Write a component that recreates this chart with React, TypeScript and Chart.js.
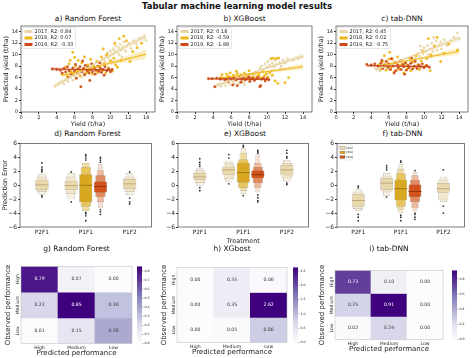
import React, { useEffect, useRef } from 'react';
import { Chart, registerables } from 'chart.js';

Chart.register(...registerables);
Chart.defaults.font.family = "'DejaVu Sans', sans-serif";
Chart.defaults.color = '#222';

type P = [number, number];

const YEARS = ['2017', '2018', '2019'];

// ---------- a) Random Forest: observed vs predicted yield ----------
const RF_2017: P[] = [[3.8,4.5],[4.2,4.8],[4.5,5.2],[4.8,4.9],[5.0,5.6],[5.3,5.3],[5.5,6.0],[5.8,5.5],[6.0,6.3],[6.2,5.8],[6.5,6.6],[6.8,6.1],[7.0,6.9],[7.2,6.4],[7.5,7.2],[7.8,6.8],[8.0,7.5],[8.3,7.1],[8.5,8.0],[8.8,7.6],[9.0,8.5],[9.2,9.2],[9.4,8.8],[9.5,9.8],[9.7,10.3],[9.8,9.4],[10.0,10.6],[10.1,9.9],[10.3,11.0],[10.4,10.2],[10.5,10.7],[10.6,11.5],[10.8,10.4],[10.9,11.2],[11.0,10.0],[11.1,11.8],[11.2,10.8],[11.4,11.4],[11.5,12.2],[11.7,10.6],[11.9,11.6],[12.1,12.0],[12.3,11.1],[12.6,12.4],[12.9,11.8],[13.3,12.8],[13.8,13.0],[14.0,12.5],[10.2,9.0],[11.3,9.6]];
const RF_2018: P[] = [[4.6,6.6],[5.0,7.8],[5.2,6.2],[5.4,8.4],[5.6,7.0],[5.8,10.4],[5.9,6.6],[6.1,8.0],[6.3,7.4],[6.4,9.0],[6.6,6.3],[6.8,8.6],[7.0,7.6],[7.1,9.6],[7.3,6.8],[7.5,8.2],[7.6,7.2],[7.8,9.2],[8.0,6.6],[8.1,8.0],[8.3,7.5],[8.5,8.8],[8.6,6.9],[8.8,7.9],[9.0,9.6],[9.1,7.2],[9.3,8.4],[9.5,6.8],[9.6,10.0],[9.8,7.7],[10.0,8.9],[10.2,7.1],[10.4,9.4],[10.6,8.2],[10.8,7.8],[11.0,12.8],[11.2,9.0],[11.5,13.2],[11.8,12.4],[12.2,8.8],[12.5,10.5],[13.0,11.2],[13.5,12.0],[10.5,12.0],[9.2,11.0],[6.0,9.5],[5.5,9.0]];
const RF_2019: P[] = [[3.5,7.5],[4.0,7.4],[4.4,7.3],[4.8,7.6],[5.0,7.0],[5.2,7.9],[5.4,7.2],[5.6,6.6],[5.8,7.7],[6.0,7.1],[6.1,8.3],[6.3,6.8],[6.4,7.5],[6.6,7.9],[6.7,4.4],[6.8,7.0],[7.0,7.6],[7.1,6.5],[7.2,8.1],[7.4,7.2],[7.5,7.8],[7.6,6.8],[7.8,7.4],[7.9,8.4],[8.0,7.0],[8.2,7.7],[8.3,6.6],[8.4,7.3],[8.6,8.0],[8.7,7.1],[8.9,7.6],[9.0,6.9],[9.2,7.4],[9.4,7.9],[9.6,7.2],[9.8,7.5],[10.0,7.0],[10.2,7.4],[6.2,5.9],[7.7,5.5],[5.3,6.0],[8.8,8.6],[6.9,8.9],[9.3,6.4],[4.6,6.8]];
const RF_R2 = ['0.84', '0.07', '-0.33'];
const RF_FIT: P[][] = [[[3.8,4.6],[14,13.3]], [[4.6,6.4],[14,10.1]], [[3.5,7.5],[10.3,7.3]]];
const RF_BAND: number[][][] = [[[3.8,4.2,5.0],[9.0,8.9,9.3],[14,12.8,13.8]], [[4.6,6.0,6.8],[8.5,7.8,8.1],[14,9.3,10.9]], [[3.5,7.2,7.8],[7.0,7.3,7.5],[10.3,7.1,7.5]]];

// ---------- b) XGBoost ----------
const XGB_2017: P[] = [[4.3,4.4],[4.6,4.8],[4.9,4.5],[5.2,5.0],[5.4,4.6],[5.7,5.2],[5.9,4.8],[6.2,5.3],[6.4,4.9],[6.7,5.5],[6.9,5.0],[7.2,5.6],[7.4,5.2],[7.7,5.8],[8.0,5.4],[8.3,6.0],[8.6,6.5],[8.9,7.0],[9.2,7.6],[9.4,8.0],[9.6,7.4],[9.8,8.4],[10.0,7.8],[10.1,8.8],[10.3,8.1],[10.4,9.3],[10.6,8.5],[10.8,7.9],[10.9,9.0],[11.0,8.3],[11.2,9.4],[11.4,8.6],[11.6,8.0],[11.8,9.1],[12.0,8.5],[12.3,9.3],[12.6,7.7],[12.9,9.0],[13.5,9.3],[13.9,9.6],[10.5,7.2],[11.5,7.5],[9.0,6.2],[7.5,4.7]];
const XGB_2018: P[] = [[4.8,6.0],[5.0,6.5],[5.3,5.9],[5.5,6.6],[5.7,6.2],[5.9,6.8],[6.1,6.0],[6.3,6.4],[6.5,5.9],[6.7,6.7],[6.9,6.1],[7.1,6.5],[7.3,6.0],[7.5,6.8],[7.7,6.2],[7.9,6.5],[8.1,5.9],[8.3,6.6],[8.5,6.1],[8.7,6.9],[8.9,6.2],[9.1,6.5],[9.3,6.0],[9.5,7.0],[9.7,6.3],[9.9,6.6],[10.1,6.1],[10.3,6.8],[10.5,9.3],[10.7,9.4],[11.0,9.3],[11.3,9.4],[10.6,6.4],[10.9,5.4],[11.2,5.0],[12.0,5.1],[12.4,6.0],[8.0,7.2],[6.6,7.1]];
const XGB_2019: P[] = [[3.5,5.8],[3.9,5.8],[4.2,4.4],[4.4,5.9],[4.8,5.7],[5.0,5.9],[5.3,5.6],[5.5,5.8],[5.8,6.0],[6.0,5.7],[6.2,4.7],[6.3,5.9],[6.5,5.6],[6.7,4.6],[6.8,5.8],[7.0,6.0],[7.2,5.7],[7.4,5.9],[7.6,5.6],[7.8,5.8],[8.0,6.1],[8.2,5.7],[8.4,5.9],[8.6,5.5],[8.8,5.8],[9.0,6.0],[9.2,4.4],[9.3,4.6],[9.4,5.7],[9.6,5.9],[9.8,5.4],[10.0,5.8],[10.2,5.6],[7.1,5.2],[8.1,5.3],[5.7,5.3]];
const XGB_R2 = ['0.18', '-0.59', '-1.88'];
const XGB_FIT: P[][] = [[[4.3,4.6],[14,9.8]], [[4.8,5.9],[14,7.9]], [[3.5,5.8],[10.3,5.7]]];
const XGB_BAND: number[][][] = [[[4.3,4.3,4.9],[9.0,7.0,7.3],[14,9.4,10.2]], [[4.8,5.7,6.1],[8.5,6.6,6.8],[14,7.4,8.4]], [[3.5,5.6,6.0],[7.0,5.7,5.9],[10.3,5.5,5.9]]];

// ---------- c) tab-DNN ----------
const DNN_2017: P[] = [[4.5,7.6],[5.0,7.2],[5.5,7.8],[6.0,7.5],[6.5,8.1],[7.0,7.7],[7.5,8.4],[8.0,8.3],[8.5,9.0],[9.0,9.4],[9.3,10.2],[9.5,9.7],[9.7,10.8],[9.9,10.1],[10.0,11.2],[10.2,10.5],[10.4,11.6],[10.5,10.0],[10.7,11.0],[10.9,12.0],[11.0,10.6],[11.2,11.4],[11.4,12.4],[11.5,10.8],[11.7,11.7],[11.9,12.2],[12.0,11.0],[12.3,12.6],[12.6,11.6],[13.0,12.3],[13.4,13.0],[13.8,13.8],[14.0,12.8],[10.8,9.6],[9.6,11.5],[12.2,10.2],[11.1,13.0],[8.8,8.6]];
const DNN_2018: P[] = [[4.8,8.2],[5.1,7.5],[5.3,8.8],[5.5,9.8],[5.7,7.3],[5.9,8.4],[6.1,10.4],[6.2,7.8],[6.4,9.2],[6.6,7.0],[6.8,8.6],[7.0,9.6],[7.1,7.4],[7.3,8.1],[7.5,9.0],[7.7,6.8],[7.9,8.4],[8.1,7.6],[8.3,9.4],[8.5,7.2],[8.7,8.8],[8.9,7.9],[9.1,9.8],[9.3,8.2],[9.5,7.4],[9.7,8.9],[9.9,10.6],[10.1,8.0],[10.3,9.3],[10.5,12.8],[10.8,10.0],[11.2,11.5],[11.5,13.0],[11.9,8.8],[12.3,10.2],[12.8,11.8],[13.8,10.8],[10.7,7.2],[6.0,9.2]];
const DNN_2019: P[] = [[3.5,8.3],[4.0,8.2],[4.4,8.4],[4.8,8.0],[5.1,8.5],[5.3,7.6],[5.5,8.2],[5.7,8.8],[5.9,7.8],[6.0,8.4],[6.2,7.4],[6.3,9.3],[6.5,8.0],[6.7,8.6],[6.8,7.2],[7.0,8.2],[7.1,7.7],[7.3,8.9],[7.4,7.4],[7.6,8.3],[7.7,7.9],[7.9,8.6],[8.0,7.3],[8.2,8.1],[8.3,7.7],[8.5,8.5],[8.7,7.5],[8.9,8.0],[9.0,8.8],[9.2,7.6],[9.4,8.2],[9.6,7.9],[9.8,8.4],[10.0,7.7],[10.3,8.1],[10.6,7.8],[6.6,6.8],[7.8,6.6],[5.2,9.0],[8.6,9.4]];
const DNN_R2 = ['0.45', '0.02', '-0.75'];
const DNN_FIT: P[][] = [[[4.5,7.3],[14,12.9]], [[4.8,8.0],[14,10.6]], [[3.5,8.1],[10.6,7.9]]];
const DNN_BAND: number[][][] = [[[4.5,6.9,7.7],[9.5,10.1,10.4],[14,12.4,13.4]], [[4.8,7.7,8.3],[9.0,9.1,9.3],[14,10.0,11.2]], [[3.5,7.9,8.3],[7.0,7.9,8.1],[10.6,7.7,8.1]]];

// ---------- d-f) prediction error per treatment (letter-value boxes) ----------
const TREAT_SLOTS = ['_0', 'P2F1', '_2', '_3', 'P1F1', '_5', '_6', 'P1F2', '_8'];
const BOX_SLOT = ['P2F1', '_3', 'P1F1', '_5', 'P1F2'];
const BOX_YEAR = [0, 0, 1, 2, 0];

const RF_LEVELS: P[][] = [
  [[-0.68,0.77],[-0.95,1.2],[-1.35,1.6]],
  [[-0.68,0.54],[-1.26,1.2],[-2.0,1.75]],
  [[-2.4,1.53],[-3.06,2.57],[-3.7,3.2]],
  [[-1.04,0.54],[-1.7,1.44],[-2.4,2.1],[-3.3,3.0]],
  [[-0.5,0.9],[-0.95,1.2],[-1.4,1.7]],
];
const RF_MEDIAN = [0.05, -0.05, 0.0, -0.2, 0.2];
const RF_OUT: number[][] = [[1.9,2.1,2.3,2.6,3.2,-1.5,-1.7],[1.9,-2.4],[3.6,3.9,4.2,4.4,-3.9,-4.1,-4.4,-5.1],[3.3,3.6,3.9,4.0,-3.5,-3.8,-4.2],[1.9,-1.85,-2.4,-2.7]];

const XGB_LEVELS: P[][] = [
  [[0.77,1.75],[0.3,2.1],[-0.05,2.4]],
  [[1.53,2.65],[0.9,3.1],[0.54,3.5]],
  [[0.4,3.24],[-0.36,3.7],[-0.8,4.6],[-1.26,5.3]],
  [[1.0,2.1],[0.3,2.6],[-0.36,3.2],[-1.0,4.4]],
  [[1.44,2.9],[1.0,3.2],[0.54,3.6]],
];
const XGB_MEDIAN = [1.2, 2.2, 1.8, 1.5, 2.2];
const XGB_OUT: number[][] = [[2.7,3.0,3.3,3.8,-0.35,-0.8],[3.9,4.4,0.2],[5.5,5.7,-1.5],[4.6,4.8,5.0,-1.4,-1.8,-2.2,-2.4],[3.9,4.1,4.6,5.0,0.3,0.1]];

const DNN_LEVELS: P[][] = [
  [[-3.06,-1.26],[-3.4,-0.95],[-3.7,-0.6]],
  [[-0.68,1.0],[-1.0,1.35],[-1.5,1.75]],
  [[-2.16,0.77],[-3.06,1.67],[-3.5,2.3],[-4.0,3.0]],
  [[-1.7,0.1],[-2.4,0.77],[-3.3,1.44],[-3.7,1.9]],
  [[-1.04,0.3],[-2.16,0.77],[-2.4,1.2]],
];
const DNN_MEDIAN = [-2.2, 0.3, -0.5, -0.9, -0.5];
const DNN_OUT: number[][] = [[-0.36,-0.1,-4.2,-4.6,-5.1],[2.2,2.5,2.8,-1.7],[3.3,3.5,-4.3,-4.6,-5.1],[2.1,-4.0,-4.2,-4.6,-4.9],[2.2,-3.0,-4.0]];

// ---------- g-i) confusion of performance classes ----------
const PERF = ['High', 'Medium', 'Low'];
const HEAT_RF = [[0.79,0.07,0.00],[0.22,0.85,0.30],[0.01,0.15,0.38]];
const HEAT_XGB = [[0.00,0.35,0.06],[0.00,0.35,2.62],[0.00,0.05,0.80]];
const HEAT_DNN = [[0.73,0.10,0.00],[0.25,0.91,0.00],[0.02,0.24,0.00]];

// ---------- styles ----------
const PT_COLORS = ['rgba(233,214,164,0.9)', 'rgba(240,183,18,0.9)', 'rgba(204,72,18,0.9)'];
const LINE_COLORS = ['#e9d6a4', '#efbc2a', '#c8461a'];
const BAND_COLORS = ['rgba(236,220,176,0.45)', 'rgba(242,196,60,0.3)', 'rgba(210,90,40,0.25)'];
const LEGEND_COLORS = ['#e8d6a6', '#efb81a', '#cc4a14'];
const BOX_COLORS = [
  ['#e9d8ac', '#f2e7cb', '#f8f1e2', '#fcf9f2'],
  ['#d8a823', '#e6c55e', '#f0dc9c', '#f8eed2'],
  ['#d2521c', '#e08a60', '#edb99d', '#f7e0d3'],
];
const MEDIAN_COLORS = ['#b9a57a', '#9b7410', '#8e3210'];
const LEVEL_W = [0.9, 0.7, 0.5, 0.32];
const PURPLES = ['#fcfbfd', '#efedf5', '#dadaeb', '#bcbddc', '#9e9ac8', '#807dba', '#6a51a3', '#54278f', '#3f007d'];

function hexRgb(h: string) {
  return [parseInt(h.slice(1, 3), 16), parseInt(h.slice(3, 5), 16), parseInt(h.slice(5, 7), 16)];
}
function purples(t: number) {
  const c = Math.max(0, Math.min(1, t)) * 8;
  const i = Math.min(7, Math.floor(c));
  const f = c - i;
  const a = hexRgb(PURPLES[i]);
  const b = hexRgb(PURPLES[i + 1]);
  const m = a.map((v, k) => Math.round(v + (b[k] - v) * f));
  return `rgb(${m[0]},${m[1]},${m[2]})`;
}

const framePlugin = (color: string, width: number) => ({
  id: 'frame',
  afterDraw(chart: any) {
    const { ctx, chartArea: a } = chart;
    ctx.save();
    ctx.strokeStyle = color;
    ctx.lineWidth = width;
    ctx.strokeRect(a.left, a.top, a.right - a.left, a.bottom - a.top);
    ctx.restore();
  },
});

const scatterLegend = (r2: string[]) => ({
  id: 'scatterLegend',
  afterDatasetsDraw(chart: any) {
    const { ctx, chartArea: a } = chart;
    const x = a.left + 1.5;
    const y = a.top + 1.5;
    ctx.save();
    ctx.fillStyle = 'rgba(255,255,255,0.8)';
    ctx.strokeStyle = '#d0d0d0';
    ctx.lineWidth = 0.5;
    ctx.beginPath();
    ctx.roundRect(x, y, 53, 21, 1.5);
    ctx.fill();
    ctx.stroke();
    ctx.font = "5px 'DejaVu Sans'";
    ctx.textBaseline = 'middle';
    for (let i = 0; i < 3; i++) {
      const cy = y + 4 + i * 6.5;
      ctx.fillStyle = LEGEND_COLORS[i];
      ctx.fillRect(x + 2, cy - 1.5, 8, 3);
      ctx.fillStyle = '#222';
      ctx.fillText(`${YEARS[i]}, R2: ${r2[i]}`, x + 12, cy);
    }
    ctx.restore();
  },
});

const boxLegend = {
  id: 'boxLegend',
  afterDatasetsDraw(chart: any) {
    const { ctx, chartArea: a } = chart;
    const x = a.left + 1.5;
    const y = a.top + 1.5;
    ctx.save();
    ctx.fillStyle = 'rgba(255,255,255,0.8)';
    ctx.strokeStyle = '#d0d0d0';
    ctx.lineWidth = 0.4;
    ctx.beginPath();
    ctx.roundRect(x, y, 14, 15, 1);
    ctx.fill();
    ctx.stroke();
    ctx.font = "2.6px 'DejaVu Sans'";
    ctx.textBaseline = 'middle';
    for (let i = 0; i < 3; i++) {
      const cy = y + 3 + i * 4.6;
      ctx.fillStyle = BOX_COLORS[i][0];
      ctx.fillRect(x + 1.5, cy - 1.3, 5, 2.6);
      ctx.strokeStyle = '#6a5a45';
      ctx.lineWidth = 0.3;
      ctx.strokeRect(x + 1.5, cy - 1.3, 5, 2.6);
      ctx.fillStyle = '#222';
      ctx.fillText(YEARS[i], x + 7.5, cy);
    }
    ctx.restore();
  },
};

const heatPlugin = (values: number[][], vmax: number, gap: number) => ({
  id: 'heat',
  afterDatasetsDraw(chart: any) {
    const { ctx } = chart;
    ctx.save();
    ctx.font = "4.6px 'DejaVu Sans'";
    ctx.textAlign = 'center';
    ctx.textBaseline = 'middle';
    chart.data.datasets.forEach((_ds: any, r: number) => {
      const meta = chart.getDatasetMeta(r);
      meta.data.forEach((el: any, c: number) => {
        const p = el.getProps(['x', 'y', 'base'], true);
        const v = values[r][c];
        ctx.fillStyle = v / vmax > 0.6 ? '#ffffff' : '#3a3a3a';
        ctx.fillText(v.toFixed(2), p.x, (p.y + p.base) / 2);
      });
    });
    ctx.restore();
  },
  afterDraw(chart: any) {
    const { ctx, chartArea: a } = chart;
    const cb = chart.scales.cb;
    const x0 = a.right + gap;
    const g = ctx.createLinearGradient(0, a.bottom, 0, a.top);
    PURPLES.forEach((c, i) => g.addColorStop(i / 8, c));
    ctx.save();
    ctx.fillStyle = g;
    ctx.fillRect(x0, a.top, 5, a.bottom - a.top);
    ctx.strokeStyle = '#555';
    ctx.lineWidth = 0.4;
    cb.ticks.forEach((t: any) => {
      const y = cb.getPixelForValue(t.value);
      ctx.beginPath();
      ctx.moveTo(x0 + 5, y);
      ctx.lineTo(x0 + 6.5, y);
      ctx.stroke();
    });
    ctx.restore();
  },
});

function scatterConfig(series: P[][], r2: string[], fits: P[][], bands: number[][][]) {
  const datasets: any[] = [];
  bands.forEach((band, s) => {
    datasets.push({ type: 'line', data: band.map((b) => ({ x: b[0], y: b[2] })), borderWidth: 0, pointRadius: 0, fill: '+1', backgroundColor: BAND_COLORS[s], order: 20 });
    datasets.push({ type: 'line', data: band.map((b) => ({ x: b[0], y: b[1] })), borderWidth: 0, pointRadius: 0, fill: false, order: 20 });
  });
  series.forEach((pts, s) => {
    datasets.push({ type: 'scatter', data: pts.map((p) => ({ x: p[0], y: p[1] })), pointRadius: 1.45, pointBackgroundColor: PT_COLORS[s], pointBorderWidth: 0, order: 12 - s });
  });
  fits.forEach((f, s) => {
    datasets.push({ type: 'line', data: f.map((p) => ({ x: p[0], y: p[1] })), borderColor: LINE_COLORS[s], borderWidth: 1.2, pointRadius: 0, fill: false, order: 3 - s });
  });
  const tickFont = { size: 5 };
  return {
    type: 'scatter',
    data: { datasets },
    options: {
      responsive: false,
      animation: false,
      layout: { padding: { top: 2, right: 4, left: 0, bottom: 0 } },
      plugins: { legend: { display: false }, tooltip: { enabled: false } },
      scales: {
        x: {
          type: 'linear', min: 0, max: 15,
          ticks: { stepSize: 2, includeBounds: false, font: tickFont, padding: 1, maxRotation: 0 },
          grid: { drawOnChartArea: false, tickLength: 2, color: '#333' },
          border: { display: false },
          title: { display: true, text: 'Yield (t/ha)', font: { size: 6.3 }, padding: { top: 0, bottom: 0.2 } },
          afterFit: (s: any) => { s.height = 16; },
        },
        y: {
          type: 'linear', min: 0, max: 15,
          ticks: { stepSize: 2, includeBounds: false, font: tickFont, padding: 1 },
          grid: { drawOnChartArea: false, tickLength: 2, color: '#333' },
          border: { display: false },
          title: { display: true, text: 'Predicted yield (t/ha)', font: { size: 6.3 }, padding: { top: 2.2, bottom: 0 } },
          afterFit: (s: any) => { s.width = 21; },
        },
      },
    },
    plugins: [framePlugin('#444', 0.7), scatterLegend(r2)],
  };
}

function boxenConfig(levels: P[][], medians: number[], outliers: number[][], yTitle: string, xTitle: string, legend: boolean) {
  const datasets: any[] = [];
  for (let lvl = 3; lvl >= 0; lvl--) {
    levels.forEach((lv, b) => {
      if (lv.length <= lvl) return;
      datasets.push({
        type: 'bar',
        data: [{ x: BOX_SLOT[b], y: lv[lvl] }],
        grouped: false,
        barPercentage: LEVEL_W[lvl],
        categoryPercentage: 1,
        backgroundColor: BOX_COLORS[BOX_YEAR[b]][lvl],
        borderColor: 'rgba(70,58,45,0.6)',
        borderWidth: 0.5,
        borderSkipped: false,
        order: 10 + lvl,
      });
    });
  }
  medians.forEach((m, b) => {
    datasets.push({ type: 'line', showLine: false, data: [{ x: BOX_SLOT[b], y: m }], pointStyle: 'line', pointRadius: 6.5, pointBorderWidth: 0.9, pointBorderColor: MEDIAN_COLORS[BOX_YEAR[b]], order: 2 });
  });
  outliers.forEach((o, b) => {
    datasets.push({ type: 'line', showLine: false, data: o.map((v) => ({ x: BOX_SLOT[b], y: v })), pointRadius: 0.9, pointBackgroundColor: '#333', pointBorderWidth: 0, order: 1 });
  });
  return {
    type: 'bar',
    data: { labels: TREAT_SLOTS, datasets },
    options: {
      responsive: false,
      animation: false,
      layout: { padding: { top: 2, right: 4, left: 0, bottom: 0 } },
      plugins: { legend: { display: false }, tooltip: { enabled: false } },
      scales: {
        x: {
          type: 'category',
          ticks: {
            autoSkip: false, maxRotation: 0, font: { size: 5.8 }, padding: 2,
            callback: function (this: any, v: any) { const l = this.getLabelForValue(v); return l.startsWith('_') ? '' : l; },
          },
          grid: { display: false, drawTicks: false },
          border: { display: false },
          title: { display: !!xTitle, text: xTitle, font: { size: 6.5 }, padding: { top: 0, bottom: 0 } },
          afterFit: (s: any) => { s.height = 18; },
        },
        y: {
          type: 'linear', min: -6, max: 6,
          ticks: { stepSize: 2, font: { size: 6 }, padding: 1, callback: (v: any) => String(v).replace('-', '\u2212') },
          grid: { drawOnChartArea: false, tickLength: 2, color: '#333' },
          border: { display: false },
          title: { display: !!yTitle, text: yTitle, font: { size: 6.5 }, padding: { top: 1, bottom: 0 } },
          afterFit: (s: any) => { s.width = 20; },
        },
      },
    },
    plugins: legend ? [framePlugin('#444', 0.7), boxLegend] : [framePlugin('#444', 0.7)],
  };
}

function heatConfig(values: number[][], step: number, gap: number) {
  const vmax = Math.max(...values.flat());
  const datasets = values.map((row, r) => ({
    type: 'bar',
    data: row.map(() => [2 - r, 3 - r]),
    backgroundColor: row.map((v) => purples(v / vmax)),
    borderWidth: 0,
    barPercentage: 1,
    categoryPercentage: 1,
    grouped: false,
  }));
  return {
    type: 'bar',
    data: { labels: PERF, datasets },
    options: {
      responsive: false,
      animation: false,
      layout: { padding: { top: 2, right: 0, left: 0, bottom: 0 } },
      plugins: { legend: { display: false }, tooltip: { enabled: false } },
      scales: {
        x: {
          type: 'category',
          ticks: { font: { size: 4.6 }, padding: 1.5, maxRotation: 0 },
          grid: { display: false, drawTicks: false },
          border: { display: false },
          title: { display: true, text: 'Predicted performance', font: { size: 7 }, padding: { top: 0, bottom: 0 } },
          afterFit: (s: any) => { s.height = 14; },
        },
        y: {
          type: 'linear', min: 0, max: 3,
          afterBuildTicks: (s: any) => { s.ticks = [0.5, 1.5, 2.5].map((v) => ({ value: v })); },
          ticks: { font: { size: 4.6 }, minRotation: 90, maxRotation: 90, crossAlign: 'center', padding: -5.5, callback: (v: any) => ['Low', 'Medium', 'High'][Math.floor(v)] },
          grid: { display: false, drawTicks: false },
          border: { display: false },
          title: { display: true, text: 'Observed performance', font: { size: 7 }, padding: { top: 3.8, bottom: 0 } },
          afterFit: (s: any) => { s.width = 21; },
        },
        cb: {
          type: 'linear', position: 'right', min: 0, max: vmax,
          ticks: { stepSize: step, includeBounds: false, font: { size: 3.2 }, padding: gap + 7.5, callback: (v: any) => Number(v).toFixed(1) },
          grid: { display: false, drawTicks: false },
          border: { display: false },
          afterFit: (s: any) => { s.width = 22; },
        },
      },
    },
    plugins: [framePlugin('#bbb', 0.5), heatPlugin(values, vmax, gap)],
  };
}

function ChartBox(props: { left: number; top: number; width: number; height: number; make: () => any }) {
  const ref = useRef<HTMLCanvasElement>(null);
  useEffect(() => {
    const chart = new Chart(ref.current as HTMLCanvasElement, props.make());
    return () => chart.destroy();
  }, []);
  return (
    <canvas
      ref={ref}
      width={props.width}
      height={props.height}
      style={{ position: 'absolute', left: props.left, top: props.top, width: props.width, height: props.height }}
    />
  );
}

function PanelTitle(props: { left: number; width: number; y: number; text: string }) {
  return (
    <div style={{ position: 'absolute', left: props.left, top: props.y - 4, width: props.width, textAlign: 'center', fontSize: 7.5, lineHeight: '8px', fontFamily: "'DejaVu Sans', sans-serif", color: '#111', whiteSpace: 'nowrap' }}>
      {props.text}
    </div>
  );
}

export default function App() {
  return (
    <div style={{ position: 'absolute', left: 0, top: 0, width: 474, height: 358, background: '#fff', overflow: 'hidden' }}>
      <div style={{ position: 'absolute', left: 0, top: 1, width: 474, textAlign: 'center', fontSize: 8.5, lineHeight: '10px', fontWeight: 'bold', fontFamily: "'DejaVu Sans', sans-serif", color: '#111' }}>
        Tabular machine learning model results
      </div>

      <PanelTitle left={21} width={134} y={19} text="a) Random Forest" />
      <PanelTitle left={177} width={135} y={19} text="b) XGBoost" />
      <PanelTitle left={336} width={132} y={19} text="c) tab-DNN" />
      <ChartBox left={0} top={22} width={159} height={106} make={() => scatterConfig([RF_2017, RF_2018, RF_2019], RF_R2, RF_FIT, RF_BAND)} />
      <ChartBox left={156} top={22} width={160} height={106} make={() => scatterConfig([XGB_2017, XGB_2018, XGB_2019], XGB_R2, XGB_FIT, XGB_BAND)} />
      <ChartBox left={315} top={22} width={157} height={106} make={() => scatterConfig([DNN_2017, DNN_2018, DNN_2019], DNN_R2, DNN_FIT, DNN_BAND)} />

      <PanelTitle left={20} width={135} y={134} text="d) Random Forest" />
      <PanelTitle left={178} width={134} y={134} text="e) XGBoost" />
      <PanelTitle left={337} width={131} y={134} text="f) tab-DNN" />
      <ChartBox left={0} top={136} width={159} height={109} make={() => boxenConfig(RF_LEVELS, RF_MEDIAN, RF_OUT, 'Prediction Error', '', false)} />
      <ChartBox left={158} top={136} width={158} height={109} make={() => boxenConfig(XGB_LEVELS, XGB_MEDIAN, XGB_OUT, '', 'Treatment', false)} />
      <ChartBox left={317} top={136} width={155} height={109} make={() => boxenConfig(DNN_LEVELS, DNN_MEDIAN, DNN_OUT, '', '', true)} />

      <PanelTitle left={21} width={111} y={249} text="g) Random Forest" />
      <PanelTitle left={177} width={110} y={249} text="h) XGbost" />
      <PanelTitle left={335} width={108} y={249} text="i) tab-DNN" />
      <ChartBox left={0} top={252} width={154} height={106} make={() => heatConfig(HEAT_RF, 0.1, 5)} />
      <ChartBox left={156} top={252} width={153} height={106} make={() => heatConfig(HEAT_XGB, 0.5, 6)} />
      <ChartBox left={314} top={252} width={151} height={106} make={() => heatConfig(HEAT_DNN, 0.2, 9)} />
    </div>
  );
}
